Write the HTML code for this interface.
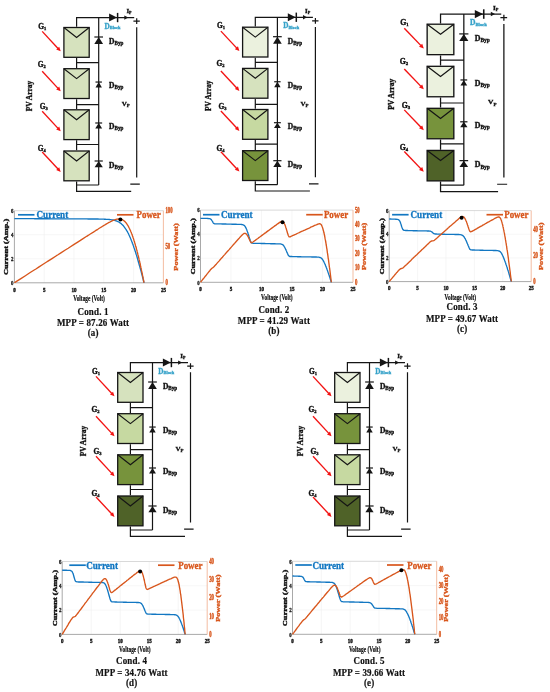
<!DOCTYPE html><html><head><meta charset="utf-8"><style>html,body{margin:0;padding:0;background:#fff;overflow:hidden}svg{display:block;will-change:transform}</style></head><body>
<svg width="550" height="692" viewBox="0 0 550 692" font-family='"Liberation Serif", serif'>
<rect width="550" height="692" fill="#fff"/>
<g transform="matrix(1,0,0,1,0,0)">
<path d="M76.6,26.8 V17.6 H134.2 M76.6,58.0 V68.0 M76.6,62.6 H98.7 M76.6,99.2 V109.1 M76.6,104.6 H98.7 M76.6,140.29999999999998 V150.3 M76.6,144.5 H98.7 M76.6,181.5 V191.3 H131.2 M76.6,185.0 H98.7 M98.7,17.6 V185.0 M136.7,27.2 V177.6 M133.4,21.1 H139.8 M136.7,18.3 V24.0 M130.3,184.1 H139.8" stroke="#151515" stroke-width="1.2" fill="none"/>
<rect x="63.9" y="27.5" width="25.30" height="29.80" fill="#d6e2be" stroke="#151515" stroke-width="1.3"/>
<path d="M63.9,27.5 L76.6,37.4 L89.2,27.5" stroke="#151515" stroke-width="1.2" fill="none"/>
<rect x="63.9" y="68.7" width="25.30" height="29.80" fill="#d6e2be" stroke="#151515" stroke-width="1.3"/>
<path d="M63.9,68.7 L76.6,78.6 L89.2,68.7" stroke="#151515" stroke-width="1.2" fill="none"/>
<rect x="63.9" y="109.8" width="25.30" height="29.80" fill="#d6e2be" stroke="#151515" stroke-width="1.3"/>
<path d="M63.9,109.8 L76.6,119.69999999999999 L89.2,109.8" stroke="#151515" stroke-width="1.2" fill="none"/>
<rect x="63.9" y="151.0" width="25.30" height="29.80" fill="#d6e2be" stroke="#151515" stroke-width="1.3"/>
<path d="M63.9,151.0 L76.6,160.9 L89.2,151.0" stroke="#151515" stroke-width="1.2" fill="none"/>
<path d="M98.7,37.0 L94.35,44.00 H103.05 Z" fill="#151515"/>
<path d="M94.35,37.00 H103.05" stroke="#151515" stroke-width="1.2"/>
<text x="109.1" y="44.05" font-size="7.5" font-weight="bold" fill="#111" stroke="#111" stroke-width="0.34">D<tspan font-size="5.1" dy="1.0">Byp</tspan></text>
<path d="M98.7,82.05 L95.50,87.55 H101.90 Z" fill="#151515"/>
<path d="M95.50,82.05 H101.90" stroke="#151515" stroke-width="1.2"/>
<text x="109.1" y="88.35" font-size="7.5" font-weight="bold" fill="#111" stroke="#111" stroke-width="0.34">D<tspan font-size="5.1" dy="1.0">Byp</tspan></text>
<path d="M98.7,123.0 L95.25,128.40 H102.15 Z" fill="#151515"/>
<path d="M95.25,123.00 H102.15" stroke="#151515" stroke-width="1.2"/>
<text x="109.1" y="129.25" font-size="7.5" font-weight="bold" fill="#111" stroke="#111" stroke-width="0.34">D<tspan font-size="5.1" dy="1.0">Byp</tspan></text>
<path d="M98.7,161.0 L94.60,167.30 H102.80 Z" fill="#151515"/>
<path d="M94.60,161.00 H102.80" stroke="#151515" stroke-width="1.2"/>
<text x="109.1" y="167.70000000000002" font-size="7.5" font-weight="bold" fill="#111" stroke="#111" stroke-width="0.34">D<tspan font-size="5.1" dy="1.0">Byp</tspan></text>
<path d="M109.1,13.6 L117.0,17.6 L109.1,21.6 Z" fill="#151515"/>
<path d="M117.6,12.9 V22.2" stroke="#151515" stroke-width="1.5"/>
<path d="M124.3,15.4 L128.3,17.6 L124.3,19.8 Z" fill="#151515"/>
<text x="104.5" y="28.7" font-size="7.2" font-weight="bold" fill="#36a2c9" stroke="#36a2c9" stroke-width="0.34">D<tspan font-size="4.4" dy="0.6">Block</tspan></text>
<text x="126.4" y="13.3" font-size="6.9" font-weight="bold" fill="#111" stroke="#111" stroke-width="0.34">I<tspan font-size="4.1" dy="0.9">P</tspan></text>
<text x="121.7" y="105.9" font-size="7.0" font-weight="bold" fill="#111" stroke="#111" stroke-width="0.34">V<tspan font-size="4.9" dy="1.5">P</tspan></text>
<text x="38.3" y="28.6" font-size="7.4" font-weight="bold" fill="#111" stroke="#111" stroke-width="0.34">G<tspan font-size="4.5" dy="1.0">1</tspan></text>
<path d="M42.2,31.4 L58.04,48.44" stroke="#f21313" stroke-width="1.35"/>
<path d="M60.7,51.3 L56.17,49.51 L59.24,46.65 Z" fill="#f21313"/>
<text x="37.8" y="66.5" font-size="7.4" font-weight="bold" fill="#111" stroke="#111" stroke-width="0.34">G<tspan font-size="4.5" dy="1.0">2</tspan></text>
<path d="M42.2,71.3 L58.04,88.34" stroke="#f21313" stroke-width="1.35"/>
<path d="M60.7,91.19999999999999 L56.17,89.41 L59.24,86.55 Z" fill="#f21313"/>
<text x="39.7" y="109.2" font-size="7.4" font-weight="bold" fill="#111" stroke="#111" stroke-width="0.34">G<tspan font-size="4.5" dy="1.0">3</tspan></text>
<path d="M42.2,111.3 L58.04,128.34" stroke="#f21313" stroke-width="1.35"/>
<path d="M60.7,131.2 L56.17,129.41 L59.24,126.55 Z" fill="#f21313"/>
<text x="37.8" y="151.0" font-size="7.4" font-weight="bold" fill="#111" stroke="#111" stroke-width="0.34">G<tspan font-size="4.5" dy="1.0">4</tspan></text>
<path d="M42.2,152.0 L58.04,169.04" stroke="#f21313" stroke-width="1.35"/>
<path d="M60.7,171.9 L56.17,170.11 L59.24,167.25 Z" fill="#f21313"/>
<text transform="translate(32.4,111.3) rotate(-90)" font-size="7.4" font-weight="bold" fill="#111" stroke="#111" stroke-width="0.34">PV Array</text>
</g>
<g transform="matrix(1,0,0,1,178.7,-0.3)">
<path d="M76.6,26.8 V17.6 H134.2 M76.6,58.0 V68.0 M76.6,62.6 H98.7 M76.6,99.2 V109.1 M76.6,104.6 H98.7 M76.6,140.29999999999998 V150.3 M76.6,144.5 H98.7 M76.6,181.5 V191.3 H131.2 M76.6,185.0 H98.7 M98.7,17.6 V185.0 M136.7,27.2 V177.6 M133.4,21.1 H139.8 M136.7,18.3 V24.0 M130.3,184.1 H139.8" stroke="#151515" stroke-width="1.2" fill="none"/>
<rect x="63.9" y="27.5" width="25.30" height="29.80" fill="#ebf1de" stroke="#151515" stroke-width="1.3"/>
<path d="M63.9,27.5 L76.6,37.4 L89.2,27.5" stroke="#151515" stroke-width="1.2" fill="none"/>
<rect x="63.9" y="68.7" width="25.30" height="29.80" fill="#d6e2be" stroke="#151515" stroke-width="1.3"/>
<path d="M63.9,68.7 L76.6,78.6 L89.2,68.7" stroke="#151515" stroke-width="1.2" fill="none"/>
<rect x="63.9" y="109.8" width="25.30" height="29.80" fill="#c6d9a1" stroke="#151515" stroke-width="1.3"/>
<path d="M63.9,109.8 L76.6,119.69999999999999 L89.2,109.8" stroke="#151515" stroke-width="1.2" fill="none"/>
<rect x="63.9" y="151.0" width="25.30" height="29.80" fill="#77933c" stroke="#151515" stroke-width="1.3"/>
<path d="M63.9,151.0 L76.6,160.9 L89.2,151.0" stroke="#151515" stroke-width="1.2" fill="none"/>
<path d="M98.7,37.0 L94.35,44.00 H103.05 Z" fill="#151515"/>
<path d="M94.35,37.00 H103.05" stroke="#151515" stroke-width="1.2"/>
<text x="109.1" y="44.05" font-size="7.5" font-weight="bold" fill="#111" stroke="#111" stroke-width="0.34">D<tspan font-size="5.1" dy="1.0">Byp</tspan></text>
<path d="M98.7,82.05 L95.50,87.55 H101.90 Z" fill="#151515"/>
<path d="M95.50,82.05 H101.90" stroke="#151515" stroke-width="1.2"/>
<text x="109.1" y="88.35" font-size="7.5" font-weight="bold" fill="#111" stroke="#111" stroke-width="0.34">D<tspan font-size="5.1" dy="1.0">Byp</tspan></text>
<path d="M98.7,123.0 L95.25,128.40 H102.15 Z" fill="#151515"/>
<path d="M95.25,123.00 H102.15" stroke="#151515" stroke-width="1.2"/>
<text x="109.1" y="129.25" font-size="7.5" font-weight="bold" fill="#111" stroke="#111" stroke-width="0.34">D<tspan font-size="5.1" dy="1.0">Byp</tspan></text>
<path d="M98.7,161.0 L94.60,167.30 H102.80 Z" fill="#151515"/>
<path d="M94.60,161.00 H102.80" stroke="#151515" stroke-width="1.2"/>
<text x="109.1" y="167.70000000000002" font-size="7.5" font-weight="bold" fill="#111" stroke="#111" stroke-width="0.34">D<tspan font-size="5.1" dy="1.0">Byp</tspan></text>
<path d="M109.1,13.6 L117.0,17.6 L109.1,21.6 Z" fill="#151515"/>
<path d="M117.6,12.9 V22.2" stroke="#151515" stroke-width="1.5"/>
<path d="M124.3,15.4 L128.3,17.6 L124.3,19.8 Z" fill="#151515"/>
<text x="104.5" y="28.7" font-size="7.2" font-weight="bold" fill="#36a2c9" stroke="#36a2c9" stroke-width="0.34">D<tspan font-size="4.4" dy="0.6">Block</tspan></text>
<text x="126.4" y="13.3" font-size="6.9" font-weight="bold" fill="#111" stroke="#111" stroke-width="0.34">I<tspan font-size="4.1" dy="0.9">P</tspan></text>
<text x="121.7" y="105.9" font-size="7.0" font-weight="bold" fill="#111" stroke="#111" stroke-width="0.34">V<tspan font-size="4.9" dy="1.5">P</tspan></text>
<text x="38.3" y="28.6" font-size="7.4" font-weight="bold" fill="#111" stroke="#111" stroke-width="0.34">G<tspan font-size="4.5" dy="1.0">1</tspan></text>
<path d="M42.2,31.4 L58.04,48.44" stroke="#f21313" stroke-width="1.35"/>
<path d="M60.7,51.3 L56.17,49.51 L59.24,46.65 Z" fill="#f21313"/>
<text x="37.8" y="66.5" font-size="7.4" font-weight="bold" fill="#111" stroke="#111" stroke-width="0.34">G<tspan font-size="4.5" dy="1.0">2</tspan></text>
<path d="M42.2,71.3 L58.04,88.34" stroke="#f21313" stroke-width="1.35"/>
<path d="M60.7,91.19999999999999 L56.17,89.41 L59.24,86.55 Z" fill="#f21313"/>
<text x="39.7" y="109.2" font-size="7.4" font-weight="bold" fill="#111" stroke="#111" stroke-width="0.34">G<tspan font-size="4.5" dy="1.0">3</tspan></text>
<path d="M42.2,111.3 L58.04,128.34" stroke="#f21313" stroke-width="1.35"/>
<path d="M60.7,131.2 L56.17,129.41 L59.24,126.55 Z" fill="#f21313"/>
<text x="37.8" y="151.0" font-size="7.4" font-weight="bold" fill="#111" stroke="#111" stroke-width="0.34">G<tspan font-size="4.5" dy="1.0">4</tspan></text>
<path d="M42.2,152.0 L58.04,169.04" stroke="#f21313" stroke-width="1.35"/>
<path d="M60.7,171.9 L56.17,170.11 L59.24,167.25 Z" fill="#f21313"/>
<text transform="translate(32.4,111.3) rotate(-90)" font-size="7.4" font-weight="bold" fill="#111" stroke="#111" stroke-width="0.34">PV Array</text>
</g>
<g transform="matrix(1.054,0,0,1.022,359.8,-3.9)">
<path d="M76.6,26.8 V17.6 H134.2 M76.6,58.0 V68.0 M76.6,62.6 H98.7 M76.6,99.2 V109.1 M76.6,104.6 H98.7 M76.6,140.29999999999998 V150.3 M76.6,144.5 H98.7 M76.6,181.5 V191.3 H131.2 M76.6,185.0 H98.7 M98.7,17.6 V185.0 M136.7,27.2 V177.6 M133.4,21.1 H139.8 M136.7,18.3 V24.0 M130.3,184.1 H139.8" stroke="#151515" stroke-width="1.2" fill="none"/>
<rect x="63.9" y="27.5" width="25.30" height="29.80" fill="#ebf1de" stroke="#151515" stroke-width="1.3"/>
<path d="M63.9,27.5 L76.6,37.4 L89.2,27.5" stroke="#151515" stroke-width="1.2" fill="none"/>
<rect x="63.9" y="68.7" width="25.30" height="29.80" fill="#ebf1de" stroke="#151515" stroke-width="1.3"/>
<path d="M63.9,68.7 L76.6,78.6 L89.2,68.7" stroke="#151515" stroke-width="1.2" fill="none"/>
<rect x="63.9" y="109.8" width="25.30" height="29.80" fill="#77933c" stroke="#151515" stroke-width="1.3"/>
<path d="M63.9,109.8 L76.6,119.69999999999999 L89.2,109.8" stroke="#151515" stroke-width="1.2" fill="none"/>
<rect x="63.9" y="151.0" width="25.30" height="29.80" fill="#4f6228" stroke="#151515" stroke-width="1.3"/>
<path d="M63.9,151.0 L76.6,160.9 L89.2,151.0" stroke="#151515" stroke-width="1.2" fill="none"/>
<path d="M98.7,37.0 L94.35,44.00 H103.05 Z" fill="#151515"/>
<path d="M94.35,37.00 H103.05" stroke="#151515" stroke-width="1.2"/>
<text x="109.1" y="44.05" font-size="7.5" font-weight="bold" fill="#111" stroke="#111" stroke-width="0.34">D<tspan font-size="5.1" dy="1.0">Byp</tspan></text>
<path d="M98.7,82.05 L95.50,87.55 H101.90 Z" fill="#151515"/>
<path d="M95.50,82.05 H101.90" stroke="#151515" stroke-width="1.2"/>
<text x="109.1" y="88.35" font-size="7.5" font-weight="bold" fill="#111" stroke="#111" stroke-width="0.34">D<tspan font-size="5.1" dy="1.0">Byp</tspan></text>
<path d="M98.7,123.0 L95.25,128.40 H102.15 Z" fill="#151515"/>
<path d="M95.25,123.00 H102.15" stroke="#151515" stroke-width="1.2"/>
<text x="109.1" y="129.25" font-size="7.5" font-weight="bold" fill="#111" stroke="#111" stroke-width="0.34">D<tspan font-size="5.1" dy="1.0">Byp</tspan></text>
<path d="M98.7,161.0 L94.60,167.30 H102.80 Z" fill="#151515"/>
<path d="M94.60,161.00 H102.80" stroke="#151515" stroke-width="1.2"/>
<text x="109.1" y="167.70000000000002" font-size="7.5" font-weight="bold" fill="#111" stroke="#111" stroke-width="0.34">D<tspan font-size="5.1" dy="1.0">Byp</tspan></text>
<path d="M109.1,13.6 L117.0,17.6 L109.1,21.6 Z" fill="#151515"/>
<path d="M117.6,12.9 V22.2" stroke="#151515" stroke-width="1.5"/>
<path d="M124.3,15.4 L128.3,17.6 L124.3,19.8 Z" fill="#151515"/>
<text x="104.5" y="28.7" font-size="7.2" font-weight="bold" fill="#36a2c9" stroke="#36a2c9" stroke-width="0.34">D<tspan font-size="4.4" dy="0.6">Block</tspan></text>
<text x="126.4" y="13.3" font-size="6.9" font-weight="bold" fill="#111" stroke="#111" stroke-width="0.34">I<tspan font-size="4.1" dy="0.9">P</tspan></text>
<text x="121.7" y="105.9" font-size="7.0" font-weight="bold" fill="#111" stroke="#111" stroke-width="0.34">V<tspan font-size="4.9" dy="1.5">P</tspan></text>
<text x="38.3" y="28.6" font-size="7.4" font-weight="bold" fill="#111" stroke="#111" stroke-width="0.34">G<tspan font-size="4.5" dy="1.0">1</tspan></text>
<path d="M42.2,31.4 L58.04,48.44" stroke="#f21313" stroke-width="1.35"/>
<path d="M60.7,51.3 L56.17,49.51 L59.24,46.65 Z" fill="#f21313"/>
<text x="37.8" y="66.5" font-size="7.4" font-weight="bold" fill="#111" stroke="#111" stroke-width="0.34">G<tspan font-size="4.5" dy="1.0">2</tspan></text>
<path d="M42.2,71.3 L58.04,88.34" stroke="#f21313" stroke-width="1.35"/>
<path d="M60.7,91.19999999999999 L56.17,89.41 L59.24,86.55 Z" fill="#f21313"/>
<text x="39.7" y="109.2" font-size="7.4" font-weight="bold" fill="#111" stroke="#111" stroke-width="0.34">G<tspan font-size="4.5" dy="1.0">3</tspan></text>
<path d="M42.2,111.3 L58.04,128.34" stroke="#f21313" stroke-width="1.35"/>
<path d="M60.7,131.2 L56.17,129.41 L59.24,126.55 Z" fill="#f21313"/>
<text x="37.8" y="151.0" font-size="7.4" font-weight="bold" fill="#111" stroke="#111" stroke-width="0.34">G<tspan font-size="4.5" dy="1.0">4</tspan></text>
<path d="M42.2,152.0 L58.04,169.04" stroke="#f21313" stroke-width="1.35"/>
<path d="M60.7,171.9 L56.17,170.11 L59.24,167.25 Z" fill="#f21313"/>
<text transform="translate(32.4,111.3) rotate(-90)" font-size="7.4" font-weight="bold" fill="#111" stroke="#111" stroke-width="0.34">PV Array</text>
</g>
<g transform="matrix(1,0,0,1,53.8,345)">
<path d="M76.6,26.8 V17.6 H134.2 M76.6,58.0 V68.0 M76.6,62.6 H98.7 M76.6,99.2 V109.1 M76.6,104.6 H98.7 M76.6,140.29999999999998 V150.3 M76.6,144.5 H98.7 M76.6,181.5 V191.3 H131.2 M76.6,185.0 H98.7 M98.7,17.6 V185.0 M136.7,27.2 V177.6 M133.4,21.1 H139.8 M136.7,18.3 V24.0 M130.3,184.1 H139.8" stroke="#151515" stroke-width="1.2" fill="none"/>
<rect x="63.9" y="27.5" width="25.30" height="29.80" fill="#d6e2be" stroke="#151515" stroke-width="1.3"/>
<path d="M63.9,27.5 L76.6,37.4 L89.2,27.5" stroke="#151515" stroke-width="1.2" fill="none"/>
<rect x="63.9" y="68.7" width="25.30" height="29.80" fill="#c6d9a1" stroke="#151515" stroke-width="1.3"/>
<path d="M63.9,68.7 L76.6,78.6 L89.2,68.7" stroke="#151515" stroke-width="1.2" fill="none"/>
<rect x="63.9" y="109.8" width="25.30" height="29.80" fill="#77933c" stroke="#151515" stroke-width="1.3"/>
<path d="M63.9,109.8 L76.6,119.69999999999999 L89.2,109.8" stroke="#151515" stroke-width="1.2" fill="none"/>
<rect x="63.9" y="151.0" width="25.30" height="29.80" fill="#4f6228" stroke="#151515" stroke-width="1.3"/>
<path d="M63.9,151.0 L76.6,160.9 L89.2,151.0" stroke="#151515" stroke-width="1.2" fill="none"/>
<path d="M98.7,37.0 L94.35,44.00 H103.05 Z" fill="#151515"/>
<path d="M94.35,37.00 H103.05" stroke="#151515" stroke-width="1.2"/>
<text x="109.1" y="44.05" font-size="7.5" font-weight="bold" fill="#111" stroke="#111" stroke-width="0.34">D<tspan font-size="5.1" dy="1.0">Byp</tspan></text>
<path d="M98.7,82.05 L95.50,87.55 H101.90 Z" fill="#151515"/>
<path d="M95.50,82.05 H101.90" stroke="#151515" stroke-width="1.2"/>
<text x="109.1" y="88.35" font-size="7.5" font-weight="bold" fill="#111" stroke="#111" stroke-width="0.34">D<tspan font-size="5.1" dy="1.0">Byp</tspan></text>
<path d="M98.7,123.0 L95.25,128.40 H102.15 Z" fill="#151515"/>
<path d="M95.25,123.00 H102.15" stroke="#151515" stroke-width="1.2"/>
<text x="109.1" y="129.25" font-size="7.5" font-weight="bold" fill="#111" stroke="#111" stroke-width="0.34">D<tspan font-size="5.1" dy="1.0">Byp</tspan></text>
<path d="M98.7,161.0 L94.60,167.30 H102.80 Z" fill="#151515"/>
<path d="M94.60,161.00 H102.80" stroke="#151515" stroke-width="1.2"/>
<text x="109.1" y="167.70000000000002" font-size="7.5" font-weight="bold" fill="#111" stroke="#111" stroke-width="0.34">D<tspan font-size="5.1" dy="1.0">Byp</tspan></text>
<path d="M109.1,13.6 L117.0,17.6 L109.1,21.6 Z" fill="#151515"/>
<path d="M117.6,12.9 V22.2" stroke="#151515" stroke-width="1.5"/>
<path d="M124.3,15.4 L128.3,17.6 L124.3,19.8 Z" fill="#151515"/>
<text x="104.5" y="28.7" font-size="7.2" font-weight="bold" fill="#36a2c9" stroke="#36a2c9" stroke-width="0.34">D<tspan font-size="4.4" dy="0.6">Block</tspan></text>
<text x="126.4" y="13.3" font-size="6.9" font-weight="bold" fill="#111" stroke="#111" stroke-width="0.34">I<tspan font-size="4.1" dy="0.9">P</tspan></text>
<text x="121.7" y="105.9" font-size="7.0" font-weight="bold" fill="#111" stroke="#111" stroke-width="0.34">V<tspan font-size="4.9" dy="1.5">P</tspan></text>
<text x="38.3" y="28.6" font-size="7.4" font-weight="bold" fill="#111" stroke="#111" stroke-width="0.34">G<tspan font-size="4.5" dy="1.0">1</tspan></text>
<path d="M42.2,31.4 L58.04,48.44" stroke="#f21313" stroke-width="1.35"/>
<path d="M60.7,51.3 L56.17,49.51 L59.24,46.65 Z" fill="#f21313"/>
<text x="37.8" y="66.5" font-size="7.4" font-weight="bold" fill="#111" stroke="#111" stroke-width="0.34">G<tspan font-size="4.5" dy="1.0">2</tspan></text>
<path d="M42.2,71.3 L58.04,88.34" stroke="#f21313" stroke-width="1.35"/>
<path d="M60.7,91.19999999999999 L56.17,89.41 L59.24,86.55 Z" fill="#f21313"/>
<text x="39.7" y="109.2" font-size="7.4" font-weight="bold" fill="#111" stroke="#111" stroke-width="0.34">G<tspan font-size="4.5" dy="1.0">3</tspan></text>
<path d="M42.2,111.3 L58.04,128.34" stroke="#f21313" stroke-width="1.35"/>
<path d="M60.7,131.2 L56.17,129.41 L59.24,126.55 Z" fill="#f21313"/>
<text x="37.8" y="151.0" font-size="7.4" font-weight="bold" fill="#111" stroke="#111" stroke-width="0.34">G<tspan font-size="4.5" dy="1.0">4</tspan></text>
<path d="M42.2,152.0 L58.04,169.04" stroke="#f21313" stroke-width="1.35"/>
<path d="M60.7,171.9 L56.17,170.11 L59.24,167.25 Z" fill="#f21313"/>
<text transform="translate(32.4,111.3) rotate(-90)" font-size="7.4" font-weight="bold" fill="#111" stroke="#111" stroke-width="0.34">PV Array</text>
</g>
<g transform="matrix(1,0,0,1,270.8,345)">
<path d="M76.6,26.8 V17.6 H134.2 M76.6,58.0 V68.0 M76.6,62.6 H98.7 M76.6,99.2 V109.1 M76.6,104.6 H98.7 M76.6,140.29999999999998 V150.3 M76.6,144.5 H98.7 M76.6,181.5 V191.3 H131.2 M76.6,185.0 H98.7 M98.7,17.6 V185.0 M136.7,27.2 V177.6 M133.4,21.1 H139.8 M136.7,18.3 V24.0 M130.3,184.1 H139.8" stroke="#151515" stroke-width="1.2" fill="none"/>
<rect x="63.9" y="27.5" width="25.30" height="29.80" fill="#ebf1de" stroke="#151515" stroke-width="1.3"/>
<path d="M63.9,27.5 L76.6,37.4 L89.2,27.5" stroke="#151515" stroke-width="1.2" fill="none"/>
<rect x="63.9" y="68.7" width="25.30" height="29.80" fill="#77933c" stroke="#151515" stroke-width="1.3"/>
<path d="M63.9,68.7 L76.6,78.6 L89.2,68.7" stroke="#151515" stroke-width="1.2" fill="none"/>
<rect x="63.9" y="109.8" width="25.30" height="29.80" fill="#c6d9a1" stroke="#151515" stroke-width="1.3"/>
<path d="M63.9,109.8 L76.6,119.69999999999999 L89.2,109.8" stroke="#151515" stroke-width="1.2" fill="none"/>
<rect x="63.9" y="151.0" width="25.30" height="29.80" fill="#4f6228" stroke="#151515" stroke-width="1.3"/>
<path d="M63.9,151.0 L76.6,160.9 L89.2,151.0" stroke="#151515" stroke-width="1.2" fill="none"/>
<path d="M98.7,37.0 L94.35,44.00 H103.05 Z" fill="#151515"/>
<path d="M94.35,37.00 H103.05" stroke="#151515" stroke-width="1.2"/>
<text x="109.1" y="44.05" font-size="7.5" font-weight="bold" fill="#111" stroke="#111" stroke-width="0.34">D<tspan font-size="5.1" dy="1.0">Byp</tspan></text>
<path d="M98.7,82.05 L95.50,87.55 H101.90 Z" fill="#151515"/>
<path d="M95.50,82.05 H101.90" stroke="#151515" stroke-width="1.2"/>
<text x="109.1" y="88.35" font-size="7.5" font-weight="bold" fill="#111" stroke="#111" stroke-width="0.34">D<tspan font-size="5.1" dy="1.0">Byp</tspan></text>
<path d="M98.7,123.0 L95.25,128.40 H102.15 Z" fill="#151515"/>
<path d="M95.25,123.00 H102.15" stroke="#151515" stroke-width="1.2"/>
<text x="109.1" y="129.25" font-size="7.5" font-weight="bold" fill="#111" stroke="#111" stroke-width="0.34">D<tspan font-size="5.1" dy="1.0">Byp</tspan></text>
<path d="M98.7,161.0 L94.60,167.30 H102.80 Z" fill="#151515"/>
<path d="M94.60,161.00 H102.80" stroke="#151515" stroke-width="1.2"/>
<text x="109.1" y="167.70000000000002" font-size="7.5" font-weight="bold" fill="#111" stroke="#111" stroke-width="0.34">D<tspan font-size="5.1" dy="1.0">Byp</tspan></text>
<path d="M109.1,13.6 L117.0,17.6 L109.1,21.6 Z" fill="#151515"/>
<path d="M117.6,12.9 V22.2" stroke="#151515" stroke-width="1.5"/>
<path d="M124.3,15.4 L128.3,17.6 L124.3,19.8 Z" fill="#151515"/>
<text x="104.5" y="28.7" font-size="7.2" font-weight="bold" fill="#36a2c9" stroke="#36a2c9" stroke-width="0.34">D<tspan font-size="4.4" dy="0.6">Block</tspan></text>
<text x="126.4" y="13.3" font-size="6.9" font-weight="bold" fill="#111" stroke="#111" stroke-width="0.34">I<tspan font-size="4.1" dy="0.9">P</tspan></text>
<text x="121.7" y="105.9" font-size="7.0" font-weight="bold" fill="#111" stroke="#111" stroke-width="0.34">V<tspan font-size="4.9" dy="1.5">P</tspan></text>
<text x="38.3" y="28.6" font-size="7.4" font-weight="bold" fill="#111" stroke="#111" stroke-width="0.34">G<tspan font-size="4.5" dy="1.0">1</tspan></text>
<path d="M42.2,31.4 L58.04,48.44" stroke="#f21313" stroke-width="1.35"/>
<path d="M60.7,51.3 L56.17,49.51 L59.24,46.65 Z" fill="#f21313"/>
<text x="37.8" y="66.5" font-size="7.4" font-weight="bold" fill="#111" stroke="#111" stroke-width="0.34">G<tspan font-size="4.5" dy="1.0">2</tspan></text>
<path d="M42.2,71.3 L58.04,88.34" stroke="#f21313" stroke-width="1.35"/>
<path d="M60.7,91.19999999999999 L56.17,89.41 L59.24,86.55 Z" fill="#f21313"/>
<text x="39.7" y="109.2" font-size="7.4" font-weight="bold" fill="#111" stroke="#111" stroke-width="0.34">G<tspan font-size="4.5" dy="1.0">3</tspan></text>
<path d="M42.2,111.3 L58.04,128.34" stroke="#f21313" stroke-width="1.35"/>
<path d="M60.7,131.2 L56.17,129.41 L59.24,126.55 Z" fill="#f21313"/>
<text x="37.8" y="151.0" font-size="7.4" font-weight="bold" fill="#111" stroke="#111" stroke-width="0.34">G<tspan font-size="4.5" dy="1.0">4</tspan></text>
<path d="M42.2,152.0 L58.04,169.04" stroke="#f21313" stroke-width="1.35"/>
<path d="M60.7,171.9 L56.17,170.11 L59.24,167.25 Z" fill="#f21313"/>
<text transform="translate(32.4,111.3) rotate(-90)" font-size="7.4" font-weight="bold" fill="#111" stroke="#111" stroke-width="0.34">PV Array</text>
</g>
<path d="M44.20,282.8 V210.70 M74.00,282.8 V210.70 M103.80,282.8 V210.70 M133.60,282.8 V210.70 M14.4,258.77 H163.40 M14.4,234.73 H163.40" stroke="#f0f0f0" stroke-width="0.6" fill="none"/>
<path d="M14.4,210.70 H163.40" stroke="#cfcfcf" stroke-width="0.8"/>
<path d="M14.4,210.70 V282.8 H163.40" stroke="#8c8c8c" stroke-width="0.75" fill="none"/>
<path d="M163.40,282.8 V210.70" stroke="#f2b597" stroke-width="0.9"/>
<polyline points="14.4,218.6 16.5,218.6 20.9,218.6 25.4,218.6 29.8,218.6 34.2,218.7 36.3,218.7 38.7,218.7 43.1,218.7 47.0,218.7 52.0,218.8 56.4,218.8 57.6,218.8 60.9,218.8 65.3,218.8 68.2,218.8 69.7,218.9 74.1,218.9 78.5,218.9 82.7,218.9 86.7,218.9 88.5,219.0 90.3,219.0 93.4,219.0 95.5,219.0 97.8,219.0 99.3,219.1 100.6,219.1 101.6,219.1 102.5,219.1 103.3,219.1 104.0,219.2 105.2,219.2 106.1,219.3 106.9,219.3 107.6,219.3 108.5,219.4 109.3,219.5 110.2,219.6 110.9,219.7 111.6,219.8 112.4,219.9 113.1,220.0 113.9,220.2 114.6,220.4 115.3,220.6 116.0,220.8 116.7,221.0 117.4,221.3 118.1,221.7 118.8,222.0 119.4,222.4 120.1,222.9 120.7,223.3 121.3,223.8 121.8,224.3 122.3,224.7 122.9,225.3 123.4,225.8 123.8,226.4 124.3,227.0 124.7,227.6 125.2,228.2 125.6,228.8 126.0,229.3 126.3,229.9 126.7,230.6 127.1,231.2 127.5,231.9 127.8,232.5 128.2,233.2 128.5,233.8 128.8,234.5 129.1,235.1 129.4,235.8 129.7,236.4 130.0,237.1 130.3,237.7 130.6,238.4 130.8,239.0 131.1,239.7 131.3,240.3 131.6,241.0 131.9,241.8 132.2,242.5 132.4,243.2 132.7,243.9 133.0,244.6 133.2,245.3 133.5,246.0 133.7,246.7 133.9,247.4 134.2,248.1 134.4,248.8 134.7,249.5 134.9,250.2 135.1,250.9 135.3,251.6 135.6,252.3 135.8,253.0 136.0,253.7 136.2,254.4 136.5,255.1 136.7,255.8 136.9,256.5 137.1,257.2 137.3,257.9 137.5,258.6 137.7,259.4 137.9,260.1 138.1,260.8 138.3,261.5 138.5,262.2 138.7,262.9 138.9,263.6 139.1,264.3 139.3,265.0 139.5,265.7 139.7,266.4 139.9,267.1 140.1,267.8 140.3,268.5 140.5,269.2 140.7,269.9 140.9,270.6 141.1,271.3 141.3,272.0 141.4,272.7 141.6,273.4 141.8,274.1 142.0,274.8 142.2,275.5 142.4,276.2 142.5,277.0 142.7,277.7 142.9,278.4 143.1,279.1 143.3,279.8 143.4,280.5 143.6,281.2 143.8,281.9 144.0,282.6 144.0,282.8" stroke="#1277c2" stroke-width="1.35" fill="none" stroke-linejoin="round"/>
<polyline points="14.4,282.8 15.0,282.4 16.5,281.4 20.9,278.6 25.4,275.7 29.8,272.8 34.2,270.0 36.3,268.7 38.7,267.1 43.1,264.3 47.0,261.8 47.6,261.4 52.0,258.6 56.4,255.7 57.6,255.0 60.9,252.9 65.3,250.0 68.2,248.2 69.7,247.2 74.1,244.4 78.5,241.6 82.7,238.9 86.7,236.3 88.5,235.2 90.3,234.0 93.4,232.1 95.5,230.7 97.8,229.3 99.3,228.3 100.6,227.5 101.6,226.9 102.2,226.5 103.3,225.8 104.0,225.4 104.6,225.0 105.4,224.6 106.1,224.1 106.9,223.7 107.6,223.2 108.2,222.9 109.1,222.4 109.8,222.1 110.4,221.7 111.1,221.4 111.7,221.1 112.4,220.7 113.1,220.4 113.9,220.1 114.6,219.8 115.3,219.6 116.0,219.4 116.8,219.2 117.5,219.1 118.2,219.0 118.9,218.9 119.6,219.0 120.3,219.1 121.0,219.2 121.7,219.4 122.4,219.7 123.0,220.1 123.6,220.5 124.2,221.0 124.7,221.4 125.3,221.9 125.7,222.5 126.2,223.0 126.6,223.6 127.0,224.2 127.4,224.8 127.8,225.4 128.2,226.0 128.5,226.6 128.8,227.3 129.2,227.9 129.5,228.6 129.8,229.2 130.1,229.9 130.4,230.6 130.7,231.3 131.0,232.0 131.3,232.6 131.5,233.3 131.8,234.0 132.0,234.6 132.3,235.3 132.5,236.0 132.8,236.7 133.0,237.3 133.2,238.0 133.5,238.7 133.7,239.4 133.9,240.1 134.1,240.8 134.4,241.5 134.6,242.2 134.8,243.0 135.0,243.7 135.2,244.4 135.4,245.1 135.6,245.9 135.8,246.6 136.1,247.3 136.2,248.0 136.4,248.7 136.6,249.4 136.8,250.0 137.0,250.7 137.1,251.4 137.3,252.1 137.5,252.8 137.7,253.5 137.8,254.2 138.0,254.9 138.2,255.6 138.4,256.3 138.5,257.0 138.7,257.7 138.9,258.4 139.0,259.2 139.2,259.9 139.4,260.6 139.5,261.3 139.7,262.0 139.9,262.8 140.0,263.5 140.2,264.2 140.4,264.9 140.5,265.7 140.7,266.4 140.8,267.2 141.0,267.9 141.2,268.6 141.3,269.4 141.5,270.1 141.6,270.9 141.8,271.6 142.0,272.4 142.1,273.1 142.2,273.8 142.4,274.5 142.5,275.2 142.7,275.9 142.8,276.6 142.9,277.3 143.1,278.0 143.2,278.7 143.4,279.4 143.5,280.1 143.6,280.8 143.8,281.5 143.9,282.2 144.0,282.8" stroke="#d8561c" stroke-width="1.35" fill="none" stroke-linejoin="round"/>
<circle cx="120.4" cy="219.5" r="2.0" fill="#000"/>
<text transform="translate(14.40,291.50) scale(0.72,1)" text-anchor="middle" font-size="7.0" font-weight="bold" fill="#1a1a1a" stroke="#1a1a1a" stroke-width="0.5">0</text>
<text transform="translate(44.20,291.50) scale(0.72,1)" text-anchor="middle" font-size="7.0" font-weight="bold" fill="#1a1a1a" stroke="#1a1a1a" stroke-width="0.5">5</text>
<text transform="translate(74.00,291.50) scale(0.72,1)" text-anchor="middle" font-size="7.0" font-weight="bold" fill="#1a1a1a" stroke="#1a1a1a" stroke-width="0.5">10</text>
<text transform="translate(103.80,291.50) scale(0.72,1)" text-anchor="middle" font-size="7.0" font-weight="bold" fill="#1a1a1a" stroke="#1a1a1a" stroke-width="0.5">15</text>
<text transform="translate(133.60,291.50) scale(0.72,1)" text-anchor="middle" font-size="7.0" font-weight="bold" fill="#1a1a1a" stroke="#1a1a1a" stroke-width="0.5">20</text>
<text transform="translate(163.40,291.50) scale(0.72,1)" text-anchor="middle" font-size="7.0" font-weight="bold" fill="#1a1a1a" stroke="#1a1a1a" stroke-width="0.5">25</text>
<text transform="translate(12.30,285.00) scale(0.74,1)" text-anchor="middle" font-size="6.6" font-weight="bold" fill="#1a1a1a" stroke="#1a1a1a" stroke-width="0.35">0</text>
<text transform="translate(12.30,260.97) scale(0.74,1)" text-anchor="middle" font-size="6.6" font-weight="bold" fill="#1a1a1a" stroke="#1a1a1a" stroke-width="0.35">2</text>
<text transform="translate(12.30,236.93) scale(0.74,1)" text-anchor="middle" font-size="6.6" font-weight="bold" fill="#1a1a1a" stroke="#1a1a1a" stroke-width="0.35">4</text>
<text transform="translate(12.30,212.90) scale(0.74,1)" text-anchor="middle" font-size="6.6" font-weight="bold" fill="#1a1a1a" stroke="#1a1a1a" stroke-width="0.35">6</text>
<text transform="translate(165.40,285.20) scale(0.66,1)" font-size="7.2" font-weight="bold" fill="#d8561c" stroke="#d8561c" stroke-width="0.4">0</text>
<text transform="translate(165.40,249.15) scale(0.66,1)" font-size="7.2" font-weight="bold" fill="#d8561c" stroke="#d8561c" stroke-width="0.4">50</text>
<text transform="translate(165.40,213.10) scale(0.66,1)" font-size="7.2" font-weight="bold" fill="#d8561c" stroke="#d8561c" stroke-width="0.4">100</text>
<text transform="translate(8.20,246.95) rotate(-90) scale(1.49,1)" text-anchor="middle" font-size="5.6" font-weight="bold" fill="#111" stroke="#111" stroke-width="0.35">Current (Amp.)</text>
<text transform="translate(178.00,246.95) rotate(-90) scale(1.48,1)" text-anchor="middle" font-size="5.6" font-weight="bold" fill="#d8561c" stroke="#d8561c" stroke-width="0.3">Power (Watt)</text>
<text transform="translate(89.00,300.70) scale(0.74,1)" text-anchor="middle" font-size="7.3" font-weight="bold" fill="#111" stroke="#111" stroke-width="0.2">Voltage (Volt)</text>
<path d="M18.00,214.80 H34.50" stroke="#1277c2" stroke-width="1.7"/>
<text transform="translate(36.50,218.00) scale(0.97,1.06)" font-size="9.4" font-weight="bold" fill="#1277c2" stroke="#1277c2" stroke-width="0.3">Current</text>
<path d="M117.00,214.80 H133.50" stroke="#d8561c" stroke-width="1.7"/>
<text transform="translate(136.50,218.00) scale(0.95,1.06)" font-size="9.4" font-weight="bold" fill="#d8561c" stroke="#d8561c" stroke-width="0.3">Power</text>
<path d="M231.00,282.3 V210.10 M261.50,282.3 V210.10 M292.00,282.3 V210.10 M322.50,282.3 V210.10 M200.5,258.23 H353.00 M200.5,234.17 H353.00" stroke="#f0f0f0" stroke-width="0.6" fill="none"/>
<path d="M200.5,210.10 H353.00" stroke="#cfcfcf" stroke-width="0.8"/>
<path d="M200.5,210.10 V282.3 H353.00" stroke="#8c8c8c" stroke-width="0.75" fill="none"/>
<path d="M353.00,282.3 V210.10" stroke="#f2b597" stroke-width="0.9"/>
<polyline points="200.5,218.3 202.0,218.3 203.1,218.4 204.3,218.4 205.3,218.4 206.2,218.4 207.0,218.4 208.0,218.5 208.8,218.6 209.6,218.7 210.3,218.9 210.9,219.3 211.4,219.8 211.8,220.3 212.2,221.0 212.6,221.6 212.9,222.3 213.3,222.9 213.8,223.4 214.4,223.8 215.5,223.8 216.5,223.8 217.8,223.9 219.0,223.9 220.1,223.9 220.9,223.9 222.4,224.0 223.5,224.0 224.7,224.0 225.8,224.0 226.9,224.1 228.1,224.1 229.1,224.1 230.3,224.1 231.5,224.2 232.6,224.2 233.7,224.2 234.6,224.2 236.0,224.2 237.1,224.3 238.2,224.3 239.2,224.3 239.9,224.3 240.9,224.4 241.7,224.5 242.4,224.6 243.1,224.8 243.7,225.1 244.3,225.5 244.8,226.0 245.2,226.6 245.5,227.2 245.9,227.9 246.2,228.5 246.5,229.2 246.8,229.8 247.0,230.5 247.3,231.2 247.5,231.9 247.8,232.6 248.0,233.3 248.2,234.0 248.5,234.7 248.7,235.4 248.9,236.2 249.1,236.9 249.3,237.6 249.5,238.3 249.8,239.0 250.0,239.7 250.2,240.4 250.5,241.1 250.8,241.7 251.1,242.4 251.6,242.9 252.3,243.2 253.3,243.3 254.3,243.3 255.2,243.3 256.7,243.4 257.8,243.4 258.9,243.4 260.1,243.4 261.2,243.5 262.3,243.5 263.5,243.5 264.6,243.5 265.8,243.6 266.7,243.6 268.0,243.6 269.2,243.6 270.3,243.7 271.4,243.7 272.6,243.7 273.7,243.7 274.8,243.7 276.0,243.8 277.0,243.8 278.0,243.8 278.7,243.8 279.7,243.9 280.5,243.9 281.2,244.1 281.9,244.3 282.6,244.6 283.1,245.0 283.6,245.6 284.0,246.1 284.4,246.8 284.8,247.4 285.1,248.1 285.4,248.7 285.7,249.4 286.0,250.0 286.3,250.7 286.6,251.3 286.8,252.0 287.1,252.6 287.4,253.3 287.7,253.9 288.0,254.6 288.3,255.2 288.8,255.8 289.3,256.3 290.0,256.5 290.8,256.5 291.8,256.5 292.6,256.6 293.8,256.6 294.9,256.6 296.1,256.6 297.2,256.7 298.3,256.7 299.2,256.7 300.6,256.7 301.7,256.8 302.9,256.8 304.0,256.8 305.2,256.8 306.3,256.8 307.4,256.9 308.6,256.9 309.7,256.9 310.8,256.9 312.0,257.0 312.9,257.0 314.2,257.0 315.3,257.0 316.3,257.0 317.0,257.1 318.0,257.1 318.8,257.2 319.5,257.3 320.2,257.5 320.9,257.8 321.4,258.2 321.9,258.7 322.4,259.3 322.8,259.9 323.2,260.5 323.5,261.2 323.9,261.8 324.2,262.5 324.5,263.1 324.8,263.8 325.1,264.4 325.4,265.1 325.6,265.7 325.9,266.4 326.2,267.1 326.4,267.8 326.7,268.5 327.0,269.2 327.2,269.9 327.5,270.6 327.7,271.3 328.0,272.0 328.2,272.7 328.5,273.4 328.7,274.1 328.9,274.8 329.2,275.5 329.4,276.2 329.6,276.9 329.9,277.6 330.1,278.3 330.3,279.0 330.5,279.8 330.8,280.5 331.0,281.2 331.2,281.9 331.3,282.3" stroke="#1277c2" stroke-width="1.35" fill="none" stroke-linejoin="round"/>
<polyline points="200.5,282.3 201.0,281.7 202.0,280.4 203.1,279.0 203.7,278.3 204.3,277.6 205.3,276.2 206.2,275.2 207.0,274.1 207.6,273.4 208.4,272.4 208.8,271.9 209.3,271.3 209.8,270.7 210.2,270.1 210.7,269.6 211.2,269.1 211.7,268.6 212.3,268.1 212.8,267.7 213.4,267.2 213.9,266.8 214.4,266.2 215.0,265.6 215.5,265.1 216.0,264.4 216.5,263.9 217.8,262.4 219.0,261.1 220.1,259.8 220.9,258.8 222.4,257.2 223.5,255.9 224.7,254.6 225.8,253.3 226.4,252.6 226.9,252.0 228.1,250.7 229.1,249.6 230.3,248.2 231.5,246.9 232.6,245.6 233.7,244.3 234.6,243.4 236.0,241.7 237.1,240.5 238.2,239.3 239.2,238.2 239.9,237.3 240.5,236.7 241.2,235.9 241.9,235.2 242.4,234.7 243.0,234.2 243.6,233.8 244.2,233.4 244.9,233.3 245.6,233.5 246.2,233.9 246.6,234.4 247.1,235.0 247.5,235.6 247.8,236.2 248.2,236.8 248.5,237.5 248.8,238.2 249.1,238.8 249.4,239.5 249.7,240.1 250.0,240.8 250.3,241.4 250.7,242.0 251.1,242.5 251.8,242.7 252.5,242.3 253.3,241.8 254.3,241.0 255.2,240.4 256.7,239.3 257.8,238.5 258.5,237.9 260.1,236.8 261.2,235.9 262.3,235.1 263.5,234.2 264.6,233.4 265.8,232.6 266.7,231.9 268.0,230.9 269.2,230.1 270.3,229.2 271.4,228.4 272.1,227.9 273.7,226.7 274.8,225.9 276.0,225.1 277.0,224.3 278.0,223.6 278.7,223.1 279.7,222.4 280.5,221.9 281.2,221.6 281.9,221.4 282.6,221.5 283.2,221.8 283.7,222.4 284.1,223.0 284.4,223.7 284.7,224.3 285.0,225.0 285.3,225.8 285.5,226.4 285.7,227.1 285.9,227.8 286.2,228.5 286.4,229.2 286.6,229.9 286.8,230.6 287.0,231.3 287.2,232.0 287.4,232.7 287.6,233.4 287.8,234.1 288.1,234.8 288.3,235.5 288.7,236.2 289.1,236.8 290.0,236.8 290.8,236.5 291.5,236.2 292.5,235.7 293.8,235.1 294.9,234.6 296.1,234.1 297.2,233.5 298.3,233.0 299.2,232.6 300.6,231.9 301.7,231.4 302.9,230.9 304.0,230.4 304.7,230.1 306.3,229.3 307.4,228.8 308.6,228.3 309.7,227.8 310.8,227.2 312.0,226.7 312.9,226.3 314.2,225.7 315.3,225.2 316.3,224.8 317.0,224.5 318.0,224.1 318.8,223.8 319.5,223.7 320.2,223.9 320.8,224.3 321.3,224.8 321.6,225.4 322.0,226.1 322.2,226.7 322.5,227.4 322.7,228.1 322.9,228.8 323.1,229.5 323.3,230.2 323.5,230.9 323.7,231.6 323.8,232.3 324.0,233.0 324.2,233.8 324.3,234.5 324.5,235.2 324.6,236.0 324.8,236.7 324.9,237.4 325.0,238.2 325.2,238.9 325.3,239.7 325.5,240.4 325.6,241.2 325.7,242.0 325.9,242.7 326.0,243.5 326.1,244.2 326.2,245.0 326.4,245.8 326.5,246.5 326.6,247.3 326.7,248.1 326.9,248.9 327.0,249.6 327.1,250.4 327.2,251.2 327.3,252.0 327.4,252.8 327.6,253.6 327.7,254.3 327.8,255.1 327.9,255.9 328.0,256.7 328.1,257.5 328.2,258.3 328.4,259.1 328.5,259.9 328.6,260.7 328.7,261.5 328.8,262.3 328.9,263.1 329.0,263.9 329.1,264.7 329.2,265.5 329.3,266.4 329.4,267.2 329.6,268.0 329.7,268.8 329.8,269.6 329.9,270.4 330.0,271.2 330.1,272.1 330.2,272.9 330.3,273.7 330.4,274.5 330.5,275.4 330.6,276.2 330.7,277.0 330.8,277.9 330.9,278.7 331.0,279.5 331.1,280.3 331.2,281.0 331.3,281.7 331.3,282.3" stroke="#d8561c" stroke-width="1.35" fill="none" stroke-linejoin="round"/>
<circle cx="282.5" cy="222.2" r="2.0" fill="#000"/>
<text transform="translate(200.50,291.00) scale(0.72,1)" text-anchor="middle" font-size="7.0" font-weight="bold" fill="#1a1a1a" stroke="#1a1a1a" stroke-width="0.5">0</text>
<text transform="translate(231.00,291.00) scale(0.72,1)" text-anchor="middle" font-size="7.0" font-weight="bold" fill="#1a1a1a" stroke="#1a1a1a" stroke-width="0.5">5</text>
<text transform="translate(261.50,291.00) scale(0.72,1)" text-anchor="middle" font-size="7.0" font-weight="bold" fill="#1a1a1a" stroke="#1a1a1a" stroke-width="0.5">10</text>
<text transform="translate(292.00,291.00) scale(0.72,1)" text-anchor="middle" font-size="7.0" font-weight="bold" fill="#1a1a1a" stroke="#1a1a1a" stroke-width="0.5">15</text>
<text transform="translate(322.50,291.00) scale(0.72,1)" text-anchor="middle" font-size="7.0" font-weight="bold" fill="#1a1a1a" stroke="#1a1a1a" stroke-width="0.5">20</text>
<text transform="translate(353.00,291.00) scale(0.72,1)" text-anchor="middle" font-size="7.0" font-weight="bold" fill="#1a1a1a" stroke="#1a1a1a" stroke-width="0.5">25</text>
<text transform="translate(198.40,284.50) scale(0.74,1)" text-anchor="middle" font-size="6.6" font-weight="bold" fill="#1a1a1a" stroke="#1a1a1a" stroke-width="0.35">0</text>
<text transform="translate(198.40,260.43) scale(0.74,1)" text-anchor="middle" font-size="6.6" font-weight="bold" fill="#1a1a1a" stroke="#1a1a1a" stroke-width="0.35">2</text>
<text transform="translate(198.40,236.37) scale(0.74,1)" text-anchor="middle" font-size="6.6" font-weight="bold" fill="#1a1a1a" stroke="#1a1a1a" stroke-width="0.35">4</text>
<text transform="translate(198.40,212.30) scale(0.74,1)" text-anchor="middle" font-size="6.6" font-weight="bold" fill="#1a1a1a" stroke="#1a1a1a" stroke-width="0.35">6</text>
<text transform="translate(355.00,284.70) scale(0.66,1)" font-size="7.2" font-weight="bold" fill="#d8561c" stroke="#d8561c" stroke-width="0.4">0</text>
<text transform="translate(355.00,270.26) scale(0.66,1)" font-size="7.2" font-weight="bold" fill="#d8561c" stroke="#d8561c" stroke-width="0.4">10</text>
<text transform="translate(355.00,255.82) scale(0.66,1)" font-size="7.2" font-weight="bold" fill="#d8561c" stroke="#d8561c" stroke-width="0.4">20</text>
<text transform="translate(355.00,241.38) scale(0.66,1)" font-size="7.2" font-weight="bold" fill="#d8561c" stroke="#d8561c" stroke-width="0.4">30</text>
<text transform="translate(355.00,226.94) scale(0.66,1)" font-size="7.2" font-weight="bold" fill="#d8561c" stroke="#d8561c" stroke-width="0.4">40</text>
<text transform="translate(355.00,212.50) scale(0.66,1)" font-size="7.2" font-weight="bold" fill="#d8561c" stroke="#d8561c" stroke-width="0.4">50</text>
<text transform="translate(194.80,246.40) rotate(-90) scale(1.49,1)" text-anchor="middle" font-size="5.6" font-weight="bold" fill="#111" stroke="#111" stroke-width="0.35">Current (Amp.)</text>
<text transform="translate(366.10,246.40) rotate(-90) scale(1.48,1)" text-anchor="middle" font-size="5.6" font-weight="bold" fill="#d8561c" stroke="#d8561c" stroke-width="0.3">Power (Watt)</text>
<text transform="translate(276.85,300.20) scale(0.74,1)" text-anchor="middle" font-size="7.3" font-weight="bold" fill="#111" stroke="#111" stroke-width="0.2">Voltage (Volt)</text>
<path d="M203.00,214.70 H219.50" stroke="#1277c2" stroke-width="1.7"/>
<text transform="translate(220.90,217.70) scale(0.97,1.06)" font-size="9.4" font-weight="bold" fill="#1277c2" stroke="#1277c2" stroke-width="0.3">Current</text>
<path d="M306.20,214.70 H322.70" stroke="#d8561c" stroke-width="1.7"/>
<text transform="translate(323.90,217.70) scale(0.95,1.06)" font-size="9.4" font-weight="bold" fill="#d8561c" stroke="#d8561c" stroke-width="0.3">Power</text>
<path d="M417.60,281.6 V210.60 M446.00,281.6 V210.60 M474.40,281.6 V210.60 M502.80,281.6 V210.60 M389.2,257.93 H531.20 M389.2,234.27 H531.20" stroke="#f0f0f0" stroke-width="0.6" fill="none"/>
<path d="M389.2,210.60 H531.20" stroke="#cfcfcf" stroke-width="0.8"/>
<path d="M389.2,210.60 V281.6 H531.20" stroke="#8c8c8c" stroke-width="0.75" fill="none"/>
<path d="M531.20,281.6 V210.60" stroke="#f2b597" stroke-width="0.9"/>
<polyline points="389.2,219.0 390.6,219.0 391.7,219.1 392.7,219.1 393.7,219.1 394.6,219.1 395.3,219.2 396.2,219.2 396.9,219.3 397.6,219.4 398.3,219.6 398.9,220.0 399.4,220.6 399.8,221.2 400.1,221.8 400.4,222.5 400.6,223.2 400.9,223.9 401.1,224.6 401.3,225.3 401.5,226.0 401.7,226.7 402.0,227.4 402.2,228.0 402.5,228.7 402.8,229.4 403.2,229.9 403.8,230.3 404.7,230.4 405.8,230.5 406.7,230.5 407.4,230.5 408.5,230.6 409.2,230.6 410.6,230.6 411.6,230.6 412.7,230.7 413.7,230.7 414.8,230.7 415.9,230.7 416.8,230.7 418.0,230.8 419.0,230.8 420.1,230.8 421.2,230.8 422.2,230.9 423.3,230.9 424.3,230.9 425.4,230.9 426.4,230.9 427.3,231.0 428.0,231.0 428.9,231.0 429.7,231.1 430.4,231.2 431.1,231.5 431.7,231.8 432.3,232.3 432.8,232.8 433.3,233.3 433.9,233.7 434.6,233.9 435.4,234.0 436.3,234.0 437.0,234.1 438.1,234.1 439.1,234.1 440.0,234.1 441.2,234.2 442.3,234.2 443.4,234.2 444.4,234.2 445.5,234.3 446.6,234.3 447.6,234.3 448.7,234.3 449.7,234.3 450.8,234.4 451.9,234.4 452.7,234.4 454.0,234.4 455.1,234.5 456.1,234.5 457.1,234.5 458.0,234.5 458.7,234.5 459.7,234.6 460.4,234.7 461.1,234.8 461.8,235.0 462.5,235.3 463.0,235.7 463.5,236.3 464.0,236.8 464.4,237.4 464.8,238.1 465.2,238.7 465.5,239.3 465.8,240.0 466.1,240.6 466.4,241.3 466.7,242.0 467.0,242.7 467.3,243.4 467.6,244.1 467.9,244.7 468.1,245.4 468.4,246.1 468.7,246.8 469.0,247.5 469.3,248.1 469.6,248.8 470.0,249.4 470.6,249.8 471.4,249.9 472.2,250.0 473.3,250.0 474.2,250.0 475.4,250.1 476.5,250.1 477.5,250.1 478.6,250.1 479.6,250.2 480.7,250.2 481.8,250.2 482.8,250.2 483.9,250.3 484.9,250.3 486.0,250.3 486.8,250.3 488.1,250.3 489.2,250.4 490.2,250.4 491.3,250.4 492.4,250.4 493.4,250.5 494.3,250.5 495.3,250.5 496.0,250.5 496.9,250.6 497.7,250.6 498.4,250.8 499.1,251.0 499.7,251.4 500.3,251.8 500.8,252.4 501.2,252.9 501.6,253.5 501.9,254.2 502.3,254.8 502.6,255.5 502.9,256.1 503.2,256.8 503.5,257.5 503.8,258.2 504.0,258.9 504.3,259.5 504.6,260.2 504.8,260.9 505.1,261.6 505.3,262.3 505.6,263.0 505.8,263.7 506.0,264.4 506.3,265.1 506.5,265.7 506.7,266.4 507.0,267.1 507.2,267.8 507.4,268.5 507.6,269.2 507.8,269.9 508.1,270.6 508.3,271.3 508.5,271.9 508.7,272.6 508.9,273.3 509.1,274.0 509.3,274.7 509.5,275.4 509.7,276.1 509.9,276.8 510.1,277.5 510.3,278.2 510.5,278.8 510.7,279.5 510.9,280.2 511.1,280.9 511.3,281.6 511.3,281.6" stroke="#1277c2" stroke-width="1.35" fill="none" stroke-linejoin="round"/>
<polyline points="389.2,281.6 390.6,279.9 391.7,278.6 392.7,277.4 393.7,276.2 394.4,275.4 395.3,274.3 395.8,273.7 396.5,272.8 397.1,272.2 397.6,271.6 398.1,271.0 398.6,270.5 399.0,270.0 399.6,269.5 400.1,269.1 400.8,268.7 401.4,268.5 402.1,268.3 402.8,268.0 403.3,267.6 403.9,267.1 404.4,266.6 404.9,266.1 405.8,265.3 406.7,264.5 407.4,263.8 408.5,262.7 409.2,262.0 410.6,260.7 411.6,259.6 412.7,258.6 413.7,257.6 414.8,256.6 415.9,255.5 416.8,254.7 418.0,253.5 419.0,252.5 420.1,251.5 421.2,250.4 421.8,249.8 423.3,248.4 424.3,247.4 425.4,246.4 426.4,245.4 427.3,244.6 428.0,243.9 428.5,243.4 429.2,242.8 429.7,242.3 430.3,241.8 430.9,241.4 431.5,241.0 432.2,240.8 432.9,240.8 433.6,240.6 434.3,240.3 434.9,239.8 435.9,238.9 437.0,238.0 438.1,237.0 439.1,236.1 440.0,235.3 441.2,234.2 442.3,233.2 443.4,232.3 444.4,231.4 445.1,230.8 446.6,229.5 447.6,228.5 448.7,227.6 449.7,226.6 450.8,225.7 451.9,224.8 452.7,224.1 454.0,222.9 455.1,222.0 456.1,221.1 457.1,220.2 458.0,219.4 458.7,218.8 459.3,218.3 460.0,217.7 460.5,217.3 461.1,216.9 461.8,216.6 462.5,216.5 463.2,216.7 463.8,217.1 464.3,217.6 464.7,218.2 465.1,218.8 465.4,219.4 465.7,220.1 466.0,220.8 466.3,221.4 466.6,222.1 466.8,222.8 467.1,223.5 467.3,224.2 467.5,224.9 467.8,225.6 468.0,226.3 468.2,227.0 468.5,227.8 468.7,228.5 469.0,229.2 469.2,229.9 469.5,230.6 469.9,231.3 470.4,231.8 471.2,231.7 471.9,231.3 472.8,230.8 474.2,230.1 475.4,229.4 476.5,228.8 477.5,228.2 478.6,227.6 479.3,227.2 480.7,226.4 481.8,225.8 482.8,225.2 483.9,224.6 484.9,224.0 486.0,223.4 486.8,222.9 488.1,222.2 489.2,221.6 490.2,221.0 491.3,220.4 492.4,219.8 493.4,219.3 494.3,218.7 495.3,218.2 496.0,217.8 496.9,217.4 497.7,217.1 498.4,216.9 499.1,217.0 499.7,217.4 500.2,217.9 500.6,218.5 500.9,219.2 501.1,219.8 501.4,220.6 501.6,221.3 501.8,221.9 502.0,222.6 502.2,223.4 502.4,224.1 502.6,224.8 502.8,225.5 502.9,226.2 503.1,227.0 503.3,227.7 503.4,228.4 503.6,229.2 503.7,229.9 503.9,230.7 504.0,231.4 504.2,232.2 504.3,232.9 504.5,233.7 504.6,234.5 504.7,235.2 504.9,236.0 505.0,236.8 505.2,237.6 505.3,238.3 505.4,239.1 505.5,239.9 505.7,240.7 505.8,241.5 505.9,242.2 506.1,243.0 506.2,243.8 506.3,244.6 506.4,245.4 506.6,246.2 506.7,247.0 506.8,247.8 506.9,248.6 507.0,249.4 507.2,250.1 507.3,250.8 507.4,251.5 507.5,252.2 507.6,252.9 507.7,253.6 507.8,254.3 507.9,255.0 508.0,255.7 508.1,256.4 508.2,257.1 508.3,257.8 508.4,258.5 508.5,259.3 508.5,260.0 508.6,260.7 508.7,261.4 508.8,262.1 508.9,262.8 509.0,263.5 509.1,264.3 509.2,265.0 509.3,265.7 509.4,266.4 509.5,267.1 509.6,267.9 509.7,268.6 509.8,269.3 509.9,270.0 510.0,270.8 510.1,271.5 510.2,272.2 510.3,273.0 510.3,273.7 510.4,274.4 510.5,275.2 510.6,275.9 510.7,276.6 510.8,277.4 510.9,278.1 511.0,278.9 511.1,279.6 511.2,280.4 511.3,281.1 511.3,281.6" stroke="#d8561c" stroke-width="1.35" fill="none" stroke-linejoin="round"/>
<circle cx="461.6" cy="217.7" r="2.0" fill="#000"/>
<text transform="translate(389.20,290.30) scale(0.72,1)" text-anchor="middle" font-size="7.0" font-weight="bold" fill="#1a1a1a" stroke="#1a1a1a" stroke-width="0.5">0</text>
<text transform="translate(417.60,290.30) scale(0.72,1)" text-anchor="middle" font-size="7.0" font-weight="bold" fill="#1a1a1a" stroke="#1a1a1a" stroke-width="0.5">5</text>
<text transform="translate(446.00,290.30) scale(0.72,1)" text-anchor="middle" font-size="7.0" font-weight="bold" fill="#1a1a1a" stroke="#1a1a1a" stroke-width="0.5">10</text>
<text transform="translate(474.40,290.30) scale(0.72,1)" text-anchor="middle" font-size="7.0" font-weight="bold" fill="#1a1a1a" stroke="#1a1a1a" stroke-width="0.5">15</text>
<text transform="translate(502.80,290.30) scale(0.72,1)" text-anchor="middle" font-size="7.0" font-weight="bold" fill="#1a1a1a" stroke="#1a1a1a" stroke-width="0.5">20</text>
<text transform="translate(531.20,290.30) scale(0.72,1)" text-anchor="middle" font-size="7.0" font-weight="bold" fill="#1a1a1a" stroke="#1a1a1a" stroke-width="0.5">25</text>
<text transform="translate(387.10,283.80) scale(0.74,1)" text-anchor="middle" font-size="6.6" font-weight="bold" fill="#1a1a1a" stroke="#1a1a1a" stroke-width="0.35">0</text>
<text transform="translate(387.10,260.13) scale(0.74,1)" text-anchor="middle" font-size="6.6" font-weight="bold" fill="#1a1a1a" stroke="#1a1a1a" stroke-width="0.35">2</text>
<text transform="translate(387.10,236.47) scale(0.74,1)" text-anchor="middle" font-size="6.6" font-weight="bold" fill="#1a1a1a" stroke="#1a1a1a" stroke-width="0.35">4</text>
<text transform="translate(387.10,212.80) scale(0.74,1)" text-anchor="middle" font-size="6.6" font-weight="bold" fill="#1a1a1a" stroke="#1a1a1a" stroke-width="0.35">6</text>
<text transform="translate(533.20,284.00) scale(0.66,1)" font-size="7.2" font-weight="bold" fill="#d8561c" stroke="#d8561c" stroke-width="0.4">0</text>
<text transform="translate(533.20,258.18) scale(0.66,1)" font-size="7.2" font-weight="bold" fill="#d8561c" stroke="#d8561c" stroke-width="0.4">20</text>
<text transform="translate(533.20,232.36) scale(0.66,1)" font-size="7.2" font-weight="bold" fill="#d8561c" stroke="#d8561c" stroke-width="0.4">40</text>
<text transform="translate(384.10,246.30) rotate(-90) scale(1.49,1)" text-anchor="middle" font-size="5.6" font-weight="bold" fill="#111" stroke="#111" stroke-width="0.35">Current (Amp.)</text>
<text transform="translate(542.90,246.30) rotate(-90) scale(1.48,1)" text-anchor="middle" font-size="5.6" font-weight="bold" fill="#d8561c" stroke="#d8561c" stroke-width="0.3">Power (Watt)</text>
<text transform="translate(460.30,299.50) scale(0.74,1)" text-anchor="middle" font-size="7.3" font-weight="bold" fill="#111" stroke="#111" stroke-width="0.2">Voltage (Volt)</text>
<path d="M392.10,214.70 H408.60" stroke="#1277c2" stroke-width="1.7"/>
<text transform="translate(410.50,217.80) scale(0.97,1.06)" font-size="9.4" font-weight="bold" fill="#1277c2" stroke="#1277c2" stroke-width="0.3">Current</text>
<path d="M486.50,214.70 H503.00" stroke="#d8561c" stroke-width="1.7"/>
<text transform="translate(504.20,217.80) scale(0.95,1.06)" font-size="9.4" font-weight="bold" fill="#d8561c" stroke="#d8561c" stroke-width="0.3">Power</text>
<path d="M91.20,634.4 V561.50 M120.20,634.4 V561.50 M149.20,634.4 V561.50 M178.20,634.4 V561.50 M62.2,610.10 H207.20 M62.2,585.80 H207.20" stroke="#f0f0f0" stroke-width="0.6" fill="none"/>
<path d="M62.2,561.50 H207.20" stroke="#cfcfcf" stroke-width="0.8"/>
<path d="M62.2,561.50 V634.4 H207.20" stroke="#8c8c8c" stroke-width="0.75" fill="none"/>
<path d="M207.20,634.4 V561.50" stroke="#f2b597" stroke-width="0.9"/>
<polyline points="62.2,570.2 63.3,570.2 64.3,570.2 65.4,570.2 66.4,570.2 67.3,570.3 68.0,570.3 68.9,570.3 69.7,570.4 70.4,570.5 71.1,570.8 71.7,571.2 72.1,571.7 72.5,572.3 72.8,573.0 73.1,573.6 73.3,574.3 73.5,575.1 73.7,575.8 73.9,576.5 74.1,577.2 74.3,577.9 74.5,578.6 74.7,579.3 75.0,580.0 75.2,580.7 75.6,581.3 76.2,581.7 76.9,581.8 77.7,581.9 78.8,582.0 79.9,582.0 81.0,582.0 81.7,582.0 83.1,582.0 84.2,582.1 85.2,582.1 86.3,582.1 87.4,582.1 88.4,582.2 89.4,582.2 90.6,582.2 91.7,582.2 92.7,582.3 93.8,582.3 94.9,582.3 95.9,582.3 97.0,582.3 98.1,582.4 99.1,582.4 100.0,582.4 100.7,582.4 101.6,582.5 102.4,582.6 103.1,582.7 103.8,582.9 104.4,583.3 104.9,583.8 105.3,584.4 105.7,585.0 106.0,585.7 106.3,586.3 106.5,587.0 106.8,587.7 107.0,588.4 107.3,589.1 107.5,589.8 107.7,590.5 107.9,591.2 108.1,591.9 108.3,592.6 108.5,593.3 108.7,594.1 108.9,594.8 109.1,595.5 109.3,596.2 109.5,596.9 109.7,597.6 109.9,598.3 110.1,599.0 110.4,599.7 110.6,600.4 110.9,601.0 111.4,601.6 112.1,601.8 113.0,601.9 113.9,601.9 115.3,602.0 116.5,602.0 117.6,602.1 118.7,602.1 119.7,602.1 120.8,602.1 121.9,602.1 122.9,602.2 124.0,602.2 125.1,602.2 126.2,602.2 127.2,602.3 128.1,602.3 129.4,602.3 130.4,602.3 131.5,602.3 132.6,602.4 133.6,602.4 134.7,602.4 135.7,602.4 136.6,602.5 137.3,602.5 138.3,602.5 139.0,602.6 139.8,602.7 140.5,603.0 141.1,603.4 141.6,603.8 142.0,604.4 142.4,605.0 142.8,605.6 143.1,606.2 143.4,606.9 143.7,607.6 144.0,608.2 144.2,608.9 144.5,609.5 144.8,610.2 145.0,610.8 145.3,611.5 145.6,612.1 145.9,612.8 146.3,613.4 146.9,613.9 147.7,614.0 149.2,614.1 150.3,614.1 151.4,614.2 152.5,614.2 153.4,614.2 154.6,614.2 155.7,614.2 156.8,614.3 157.8,614.3 158.5,614.3 160.0,614.3 161.0,614.4 162.1,614.4 163.2,614.4 164.3,614.4 165.3,614.5 166.2,614.5 167.5,614.5 168.6,614.5 169.6,614.5 170.7,614.6 171.7,614.6 172.6,614.6 173.3,614.6 174.3,614.7 175.0,614.7 175.7,614.9 176.4,615.1 177.0,615.4 177.6,615.9 178.0,616.4 178.5,617.0 178.9,617.6 179.2,618.3 179.6,618.9 179.9,619.6 180.2,620.2 180.5,620.9 180.7,621.6 181.0,622.2 181.3,622.9 181.5,623.5 181.8,624.2 182.0,624.9 182.3,625.6 182.5,626.3 182.8,627.0 183.0,627.8 183.3,628.5 183.5,629.2 183.7,629.9 184.0,630.6 184.2,631.3 184.4,632.0 184.6,632.7 184.9,633.4 185.1,634.1 185.2,634.4" stroke="#1277c2" stroke-width="1.35" fill="none" stroke-linejoin="round"/>
<polyline points="62.2,634.4 63.3,632.6 64.3,630.9 64.7,630.2 65.4,629.1 66.4,627.5 67.1,626.3 68.0,624.8 68.5,623.9 68.9,623.2 69.4,622.5 69.8,621.8 70.2,621.1 70.6,620.5 71.0,619.9 71.4,619.3 71.9,618.7 72.3,618.1 72.8,617.6 73.3,617.1 74.0,616.8 74.6,616.6 75.3,616.3 75.8,615.8 76.3,615.1 76.9,614.4 77.4,613.8 78.3,612.5 78.8,611.9 79.3,611.2 79.9,610.4 81.0,609.0 81.7,608.0 83.1,606.1 84.2,604.7 85.2,603.2 86.3,601.8 86.8,601.1 87.4,600.4 88.4,598.9 89.4,597.7 90.6,596.1 91.7,594.7 92.7,593.2 93.8,591.8 94.5,590.9 95.9,589.0 97.0,587.5 98.1,586.2 99.1,584.8 100.0,583.6 100.7,582.7 101.1,582.1 101.6,581.5 102.2,580.8 102.7,580.2 103.2,579.6 103.8,579.1 104.4,578.7 105.1,578.6 105.7,578.9 106.2,579.5 106.6,580.1 106.9,580.7 107.2,581.4 107.4,582.0 107.7,582.7 107.9,583.4 108.2,584.1 108.4,584.8 108.6,585.5 108.8,586.2 109.0,586.9 109.2,587.6 109.4,588.3 109.6,589.0 109.8,589.7 110.0,590.3 110.3,591.0 110.6,591.7 110.9,592.3 111.6,592.6 112.5,592.1 113.3,591.5 113.9,591.0 115.3,589.9 116.5,588.9 117.6,588.1 118.7,587.2 119.7,586.3 120.4,585.8 121.9,584.6 122.9,583.8 124.0,582.9 125.1,582.1 126.2,581.2 127.2,580.3 128.1,579.7 129.4,578.6 130.4,577.8 131.5,576.9 132.6,576.1 133.2,575.6 134.7,574.4 135.7,573.7 136.6,572.9 137.3,572.4 138.3,571.7 139.0,571.2 139.7,570.9 140.4,570.8 141.0,571.0 141.5,571.6 141.9,572.2 142.2,572.8 142.5,573.6 142.7,574.3 143.0,575.0 143.2,575.8 143.4,576.6 143.6,577.2 143.7,577.9 143.9,578.6 144.0,579.3 144.2,580.0 144.4,580.7 144.5,581.4 144.7,582.1 144.8,582.9 145.0,583.6 145.1,584.3 145.3,585.0 145.5,585.7 145.6,586.5 145.8,587.2 146.0,587.9 146.3,588.6 146.7,589.2 147.4,589.5 148.3,589.1 149.2,588.7 150.3,588.2 151.4,587.7 152.5,587.2 153.4,586.7 154.6,586.2 155.7,585.7 156.8,585.2 157.8,584.7 158.5,584.3 160.0,583.7 161.0,583.2 162.1,582.7 163.2,582.2 164.3,581.7 165.3,581.2 166.2,580.8 167.5,580.2 168.6,579.7 169.6,579.2 170.7,578.8 171.7,578.3 172.6,577.9 173.3,577.6 174.3,577.2 175.0,577.1 175.7,577.1 176.3,577.3 176.8,577.8 177.2,578.5 177.5,579.1 177.8,579.8 178.0,580.5 178.2,581.3 178.4,582.0 178.6,582.8 178.8,583.5 179.0,584.3 179.1,585.0 179.3,585.8 179.4,586.5 179.5,587.3 179.7,588.1 179.8,588.9 179.9,589.6 180.1,590.4 180.2,591.2 180.3,592.0 180.4,592.8 180.5,593.6 180.7,594.4 180.8,595.2 180.9,596.0 181.0,596.8 181.1,597.6 181.2,598.4 181.3,599.2 181.4,600.0 181.5,600.8 181.6,601.6 181.7,602.4 181.8,603.2 181.9,604.1 182.0,604.9 182.1,605.7 182.2,606.5 182.3,607.3 182.4,608.2 182.5,609.0 182.6,609.8 182.7,610.6 182.8,611.5 182.9,612.3 183.0,613.1 183.1,614.0 183.2,614.8 183.3,615.6 183.3,616.5 183.4,617.3 183.5,618.2 183.6,619.0 183.7,619.9 183.8,620.7 183.9,621.5 184.0,622.4 184.1,623.2 184.1,624.1 184.2,624.9 184.3,625.8 184.4,626.7 184.5,627.5 184.6,628.4 184.7,629.2 184.7,630.1 184.8,630.9 184.9,631.8 185.0,632.7 185.1,633.5 185.2,634.4 185.2,634.4" stroke="#d8561c" stroke-width="1.35" fill="none" stroke-linejoin="round"/>
<circle cx="140.1" cy="571.4" r="2.0" fill="#000"/>
<text transform="translate(62.20,643.10) scale(0.72,1)" text-anchor="middle" font-size="7.0" font-weight="bold" fill="#1a1a1a" stroke="#1a1a1a" stroke-width="0.5">0</text>
<text transform="translate(91.20,643.10) scale(0.72,1)" text-anchor="middle" font-size="7.0" font-weight="bold" fill="#1a1a1a" stroke="#1a1a1a" stroke-width="0.5">5</text>
<text transform="translate(120.20,643.10) scale(0.72,1)" text-anchor="middle" font-size="7.0" font-weight="bold" fill="#1a1a1a" stroke="#1a1a1a" stroke-width="0.5">10</text>
<text transform="translate(149.20,643.10) scale(0.72,1)" text-anchor="middle" font-size="7.0" font-weight="bold" fill="#1a1a1a" stroke="#1a1a1a" stroke-width="0.5">15</text>
<text transform="translate(178.20,643.10) scale(0.72,1)" text-anchor="middle" font-size="7.0" font-weight="bold" fill="#1a1a1a" stroke="#1a1a1a" stroke-width="0.5">20</text>
<text transform="translate(207.20,643.10) scale(0.72,1)" text-anchor="middle" font-size="7.0" font-weight="bold" fill="#1a1a1a" stroke="#1a1a1a" stroke-width="0.5">25</text>
<text transform="translate(60.10,636.60) scale(0.74,1)" text-anchor="middle" font-size="6.6" font-weight="bold" fill="#1a1a1a" stroke="#1a1a1a" stroke-width="0.35">0</text>
<text transform="translate(60.10,612.30) scale(0.74,1)" text-anchor="middle" font-size="6.6" font-weight="bold" fill="#1a1a1a" stroke="#1a1a1a" stroke-width="0.35">2</text>
<text transform="translate(60.10,588.00) scale(0.74,1)" text-anchor="middle" font-size="6.6" font-weight="bold" fill="#1a1a1a" stroke="#1a1a1a" stroke-width="0.35">4</text>
<text transform="translate(60.10,563.70) scale(0.74,1)" text-anchor="middle" font-size="6.6" font-weight="bold" fill="#1a1a1a" stroke="#1a1a1a" stroke-width="0.35">6</text>
<text transform="translate(209.20,636.80) scale(0.66,1)" font-size="7.2" font-weight="bold" fill="#d8561c" stroke="#d8561c" stroke-width="0.4">0</text>
<text transform="translate(209.20,618.57) scale(0.66,1)" font-size="7.2" font-weight="bold" fill="#d8561c" stroke="#d8561c" stroke-width="0.4">10</text>
<text transform="translate(209.20,600.35) scale(0.66,1)" font-size="7.2" font-weight="bold" fill="#d8561c" stroke="#d8561c" stroke-width="0.4">20</text>
<text transform="translate(209.20,582.12) scale(0.66,1)" font-size="7.2" font-weight="bold" fill="#d8561c" stroke="#d8561c" stroke-width="0.4">30</text>
<text transform="translate(209.20,563.90) scale(0.66,1)" font-size="7.2" font-weight="bold" fill="#d8561c" stroke="#d8561c" stroke-width="0.4">40</text>
<text transform="translate(56.80,598.15) rotate(-90) scale(1.49,1)" text-anchor="middle" font-size="5.6" font-weight="bold" fill="#111" stroke="#111" stroke-width="0.35">Current (Amp.)</text>
<text transform="translate(219.80,598.15) rotate(-90) scale(1.48,1)" text-anchor="middle" font-size="5.6" font-weight="bold" fill="#d8561c" stroke="#d8561c" stroke-width="0.3">Power (Watt)</text>
<text transform="translate(134.80,652.30) scale(0.74,1)" text-anchor="middle" font-size="7.3" font-weight="bold" fill="#111" stroke="#111" stroke-width="0.2">Voltage (Volt)</text>
<path d="M69.30,565.20 H85.80" stroke="#1277c2" stroke-width="1.7"/>
<text transform="translate(86.20,569.40) scale(0.97,1.06)" font-size="9.4" font-weight="bold" fill="#1277c2" stroke="#1277c2" stroke-width="0.3">Current</text>
<path d="M158.00,565.20 H174.50" stroke="#d8561c" stroke-width="1.7"/>
<text transform="translate(178.20,569.40) scale(0.95,1.06)" font-size="9.4" font-weight="bold" fill="#d8561c" stroke="#d8561c" stroke-width="0.3">Power</text>
<path d="M321.34,634.3 V561.30 M350.18,634.3 V561.30 M379.02,634.3 V561.30 M407.86,634.3 V561.30 M292.5,609.97 H436.70 M292.5,585.63 H436.70" stroke="#f0f0f0" stroke-width="0.6" fill="none"/>
<path d="M292.5,561.30 H436.70" stroke="#cfcfcf" stroke-width="0.8"/>
<path d="M292.5,561.30 V634.3 H436.70" stroke="#8c8c8c" stroke-width="0.75" fill="none"/>
<path d="M436.70,634.3 V561.30" stroke="#f2b597" stroke-width="0.9"/>
<polyline points="292.5,576.0 293.2,576.0 294.3,576.1 295.4,576.1 296.1,576.1 297.4,576.1 298.2,576.2 299.0,576.2 299.9,576.2 300.7,576.3 301.4,576.4 302.1,576.7 302.7,577.1 303.2,577.6 303.6,578.2 303.9,578.9 304.2,579.5 304.6,580.2 304.9,580.8 305.4,581.3 306.1,581.6 306.9,581.7 307.9,581.7 308.9,581.7 310.6,581.8 311.6,581.9 312.7,581.9 313.8,581.9 314.8,581.9 315.9,581.9 317.0,582.0 317.7,582.0 319.1,582.0 320.0,582.0 321.2,582.1 322.3,582.1 323.4,582.1 324.4,582.1 325.5,582.2 326.5,582.2 327.6,582.2 328.6,582.2 329.5,582.2 330.2,582.3 331.1,582.3 331.9,582.4 332.6,582.5 333.3,582.8 334.0,583.2 334.5,583.7 334.9,584.2 335.3,584.9 335.6,585.5 335.9,586.1 336.2,586.8 336.5,587.5 336.8,588.2 337.0,588.9 337.2,589.6 337.5,590.3 337.7,591.0 337.9,591.7 338.1,592.4 338.3,593.1 338.5,593.7 338.7,594.4 338.9,595.1 339.1,595.8 339.3,596.5 339.5,597.2 339.7,597.9 340.0,598.6 340.2,599.3 340.5,600.0 340.8,600.6 341.2,601.2 341.8,601.6 342.5,601.7 343.3,601.8 344.0,601.8 345.4,601.9 346.5,601.9 347.6,601.9 348.6,601.9 349.7,602.0 350.8,602.0 351.5,602.0 352.9,602.0 353.8,602.0 355.0,602.1 356.1,602.1 357.1,602.1 358.2,602.1 359.3,602.2 360.3,602.2 361.4,602.2 362.5,602.2 363.5,602.3 364.6,602.3 365.3,602.3 366.5,602.3 367.2,602.3 368.1,602.4 368.9,602.5 369.6,602.6 370.3,602.8 370.9,603.2 371.4,603.6 371.9,604.2 372.3,604.8 372.7,605.4 373.1,606.0 373.5,606.7 373.9,607.3 374.4,607.8 375.1,608.1 376.1,608.2 376.9,608.3 377.9,608.3 378.9,608.3 380.0,608.3 381.1,608.4 382.1,608.4 383.2,608.4 384.3,608.4 385.3,608.4 386.1,608.5 387.5,608.5 388.4,608.5 389.6,608.5 390.7,608.6 391.7,608.6 392.8,608.6 393.9,608.6 394.9,608.7 396.0,608.7 397.1,608.7 398.1,608.7 399.1,608.7 400.0,608.8 400.8,608.8 401.7,608.8 402.5,608.9 403.2,609.0 403.9,609.3 404.5,609.6 405.1,610.1 405.6,610.6 406.0,611.1 406.4,611.7 406.8,612.4 407.1,613.0 407.5,613.7 407.8,614.3 408.1,614.9 408.4,615.6 408.7,616.3 409.0,617.0 409.3,617.7 409.5,618.3 409.8,619.0 410.1,619.7 410.3,620.4 410.6,621.1 410.8,621.8 411.0,622.5 411.3,623.2 411.5,623.9 411.8,624.6 412.0,625.3 412.2,626.0 412.4,626.6 412.7,627.3 412.9,628.0 413.1,628.7 413.3,629.4 413.5,630.1 413.7,630.8 413.9,631.5 414.1,632.2 414.4,632.9 414.6,633.6 414.8,634.3 414.8,634.3" stroke="#1277c2" stroke-width="1.35" fill="none" stroke-linejoin="round"/>
<polyline points="292.5,634.3 293.2,633.3 293.8,632.6 294.3,631.9 295.4,630.5 296.1,629.5 297.4,627.7 298.2,626.7 299.0,625.6 299.5,624.8 300.2,623.9 300.7,623.3 301.1,622.8 301.6,622.2 302.0,621.6 302.5,621.1 303.0,620.5 303.5,620.0 304.0,619.6 304.6,619.2 305.2,618.7 305.7,618.2 306.2,617.6 306.9,616.8 307.4,616.2 307.9,615.5 308.4,615.0 308.9,614.4 309.5,613.7 310.6,612.4 311.6,611.1 312.7,609.8 313.8,608.5 314.8,607.3 315.4,606.5 315.9,606.0 317.0,604.7 317.7,603.8 319.1,602.2 320.0,601.0 321.2,599.6 322.3,598.3 323.4,597.1 324.4,595.8 325.5,594.5 326.5,593.3 327.6,592.0 328.6,590.9 329.1,590.3 330.2,588.9 330.7,588.3 331.4,587.6 331.9,587.0 332.4,586.4 333.0,585.9 333.6,585.5 334.2,585.2 335.0,585.2 335.6,585.6 336.1,586.1 336.5,586.7 336.9,587.3 337.2,587.9 337.5,588.6 337.8,589.2 338.0,589.9 338.3,590.6 338.5,591.2 338.8,591.9 339.0,592.6 339.3,593.3 339.5,594.0 339.8,594.7 340.0,595.3 340.3,596.0 340.7,596.6 341.2,597.1 341.9,597.0 343.0,596.3 343.9,595.7 344.6,595.2 345.4,594.6 346.5,593.8 347.6,593.1 348.6,592.3 349.2,591.9 350.8,590.8 351.5,590.2 352.9,589.2 353.8,588.6 355.0,587.7 356.1,587.0 357.1,586.2 358.2,585.4 359.3,584.7 360.3,583.9 361.4,583.2 362.5,582.4 363.0,582.0 364.6,580.9 365.3,580.4 366.5,579.6 367.1,579.2 367.7,578.8 368.4,578.3 369.1,578.0 369.8,577.7 370.5,577.7 371.1,578.1 371.6,578.6 372.0,579.2 372.3,579.9 372.7,580.6 373.0,581.3 373.2,581.9 373.5,582.6 373.8,583.2 374.2,583.8 374.7,584.3 375.6,584.1 376.8,583.6 377.9,583.0 378.9,582.4 380.0,581.8 381.1,581.2 382.1,580.6 383.2,580.0 383.8,579.7 385.3,578.8 386.1,578.4 387.5,577.6 388.4,577.1 389.6,576.5 390.7,575.9 391.7,575.3 392.8,574.7 393.9,574.1 394.9,573.6 396.0,573.0 397.1,572.4 398.1,571.8 399.1,571.3 399.8,571.0 400.8,570.5 401.7,570.0 402.5,569.8 403.2,569.7 403.9,569.8 404.4,570.3 404.9,570.9 405.2,571.5 405.5,572.2 405.8,572.9 406.0,573.6 406.2,574.3 406.4,575.0 406.6,575.7 406.8,576.4 407.0,577.1 407.1,577.8 407.3,578.5 407.4,579.2 407.6,579.9 407.7,580.6 407.9,581.3 408.0,582.1 408.1,582.8 408.3,583.5 408.4,584.3 408.5,585.0 408.7,585.8 408.8,586.5 408.9,587.2 409.0,588.0 409.2,588.7 409.3,589.5 409.4,590.3 409.5,591.0 409.6,591.8 409.7,592.5 409.8,593.3 410.0,594.1 410.1,594.8 410.2,595.6 410.3,596.4 410.4,597.1 410.5,597.9 410.6,598.7 410.7,599.5 410.8,600.3 410.9,601.0 411.0,601.8 411.1,602.6 411.2,603.4 411.3,604.2 411.4,605.0 411.5,605.8 411.6,606.5 411.7,607.3 411.8,608.1 411.9,608.9 412.0,609.7 412.1,610.5 412.2,611.3 412.3,612.1 412.4,612.9 412.5,613.7 412.6,614.6 412.7,615.4 412.8,616.2 412.9,617.0 413.0,617.8 413.1,618.6 413.2,619.4 413.3,620.2 413.4,621.1 413.4,621.9 413.5,622.7 413.6,623.5 413.7,624.3 413.8,625.2 413.9,626.0 414.0,626.8 414.1,627.6 414.2,628.5 414.3,629.3 414.3,630.1 414.4,631.0 414.5,631.8 414.6,632.6 414.7,633.3 414.8,634.0 414.8,634.3" stroke="#d8561c" stroke-width="1.35" fill="none" stroke-linejoin="round"/>
<circle cx="401.4" cy="570.3" r="2.0" fill="#000"/>
<text transform="translate(292.50,643.00) scale(0.72,1)" text-anchor="middle" font-size="7.0" font-weight="bold" fill="#1a1a1a" stroke="#1a1a1a" stroke-width="0.5">0</text>
<text transform="translate(321.34,643.00) scale(0.72,1)" text-anchor="middle" font-size="7.0" font-weight="bold" fill="#1a1a1a" stroke="#1a1a1a" stroke-width="0.5">5</text>
<text transform="translate(350.18,643.00) scale(0.72,1)" text-anchor="middle" font-size="7.0" font-weight="bold" fill="#1a1a1a" stroke="#1a1a1a" stroke-width="0.5">10</text>
<text transform="translate(379.02,643.00) scale(0.72,1)" text-anchor="middle" font-size="7.0" font-weight="bold" fill="#1a1a1a" stroke="#1a1a1a" stroke-width="0.5">15</text>
<text transform="translate(407.86,643.00) scale(0.72,1)" text-anchor="middle" font-size="7.0" font-weight="bold" fill="#1a1a1a" stroke="#1a1a1a" stroke-width="0.5">20</text>
<text transform="translate(436.70,643.00) scale(0.72,1)" text-anchor="middle" font-size="7.0" font-weight="bold" fill="#1a1a1a" stroke="#1a1a1a" stroke-width="0.5">25</text>
<text transform="translate(290.40,636.50) scale(0.74,1)" text-anchor="middle" font-size="6.6" font-weight="bold" fill="#1a1a1a" stroke="#1a1a1a" stroke-width="0.35">0</text>
<text transform="translate(290.40,612.17) scale(0.74,1)" text-anchor="middle" font-size="6.6" font-weight="bold" fill="#1a1a1a" stroke="#1a1a1a" stroke-width="0.35">2</text>
<text transform="translate(290.40,587.83) scale(0.74,1)" text-anchor="middle" font-size="6.6" font-weight="bold" fill="#1a1a1a" stroke="#1a1a1a" stroke-width="0.35">4</text>
<text transform="translate(290.40,563.50) scale(0.74,1)" text-anchor="middle" font-size="6.6" font-weight="bold" fill="#1a1a1a" stroke="#1a1a1a" stroke-width="0.35">6</text>
<text transform="translate(438.70,636.70) scale(0.66,1)" font-size="7.2" font-weight="bold" fill="#d8561c" stroke="#d8561c" stroke-width="0.4">0</text>
<text transform="translate(438.70,620.48) scale(0.66,1)" font-size="7.2" font-weight="bold" fill="#d8561c" stroke="#d8561c" stroke-width="0.4">10</text>
<text transform="translate(438.70,604.26) scale(0.66,1)" font-size="7.2" font-weight="bold" fill="#d8561c" stroke="#d8561c" stroke-width="0.4">20</text>
<text transform="translate(438.70,588.03) scale(0.66,1)" font-size="7.2" font-weight="bold" fill="#d8561c" stroke="#d8561c" stroke-width="0.4">30</text>
<text transform="translate(438.70,571.81) scale(0.66,1)" font-size="7.2" font-weight="bold" fill="#d8561c" stroke="#d8561c" stroke-width="0.4">40</text>
<text transform="translate(286.90,598.00) rotate(-90) scale(1.49,1)" text-anchor="middle" font-size="5.6" font-weight="bold" fill="#111" stroke="#111" stroke-width="0.35">Current (Amp.)</text>
<text transform="translate(447.80,598.00) rotate(-90) scale(1.48,1)" text-anchor="middle" font-size="5.6" font-weight="bold" fill="#d8561c" stroke="#d8561c" stroke-width="0.3">Power (Watt)</text>
<text transform="translate(364.70,652.20) scale(0.74,1)" text-anchor="middle" font-size="7.3" font-weight="bold" fill="#111" stroke="#111" stroke-width="0.2">Voltage (Volt)</text>
<path d="M295.30,565.00 H311.80" stroke="#1277c2" stroke-width="1.7"/>
<text transform="translate(312.40,568.90) scale(0.97,1.06)" font-size="9.4" font-weight="bold" fill="#1277c2" stroke="#1277c2" stroke-width="0.3">Current</text>
<path d="M387.00,565.00 H403.50" stroke="#d8561c" stroke-width="1.7"/>
<text transform="translate(407.20,568.90) scale(0.95,1.06)" font-size="9.4" font-weight="bold" fill="#d8561c" stroke="#d8561c" stroke-width="0.3">Power</text>
<text transform="translate(93.1,314.7) scale(1,1.09)" text-anchor="middle" font-size="9.0" font-weight="bold" fill="#111" stroke="#111" stroke-width="0.18" letter-spacing="0.15">Cond. 1</text>
<text transform="translate(93.1,325.8) scale(1,1.09)" text-anchor="middle" font-size="9.0" font-weight="bold" fill="#111" stroke="#111" stroke-width="0.18" letter-spacing="0.15">MPP = 87.26 Watt</text>
<text transform="translate(93.1,336.1) scale(1,1.09)" text-anchor="middle" font-size="9.0" font-weight="bold" fill="#111" stroke="#111" stroke-width="0.18" letter-spacing="0.15">(a)</text>
<text transform="translate(273.90000000000003,312.5) scale(1,1.09)" text-anchor="middle" font-size="9.0" font-weight="bold" fill="#111" stroke="#111" stroke-width="0.18" letter-spacing="0.15">Cond. 2</text>
<text transform="translate(273.90000000000003,324.0) scale(1,1.09)" text-anchor="middle" font-size="9.0" font-weight="bold" fill="#111" stroke="#111" stroke-width="0.18" letter-spacing="0.15">MPP = 41.29 Watt</text>
<text transform="translate(273.90000000000003,333.5) scale(1,1.09)" text-anchor="middle" font-size="9.0" font-weight="bold" fill="#111" stroke="#111" stroke-width="0.18" letter-spacing="0.15">(b)</text>
<text transform="translate(462.1,310.2) scale(1,1.09)" text-anchor="middle" font-size="9.0" font-weight="bold" fill="#111" stroke="#111" stroke-width="0.18" letter-spacing="0.15">Cond. 3</text>
<text transform="translate(462.1,321.6) scale(1,1.09)" text-anchor="middle" font-size="9.0" font-weight="bold" fill="#111" stroke="#111" stroke-width="0.18" letter-spacing="0.15">MPP = 49.67 Watt</text>
<text transform="translate(462.1,331.6) scale(1,1.09)" text-anchor="middle" font-size="9.0" font-weight="bold" fill="#111" stroke="#111" stroke-width="0.18" letter-spacing="0.15">(c)</text>
<text transform="translate(131.6,664.3) scale(1,1.09)" text-anchor="middle" font-size="9.0" font-weight="bold" fill="#111" stroke="#111" stroke-width="0.18" letter-spacing="0.15">Cond. 4</text>
<text transform="translate(131.6,675.6) scale(1,1.09)" text-anchor="middle" font-size="9.0" font-weight="bold" fill="#111" stroke="#111" stroke-width="0.18" letter-spacing="0.15">MPP = 34.76 Watt</text>
<text transform="translate(131.6,685.6) scale(1,1.09)" text-anchor="middle" font-size="9.0" font-weight="bold" fill="#111" stroke="#111" stroke-width="0.18" letter-spacing="0.15">(d)</text>
<text transform="translate(369.1,664.3) scale(1,1.09)" text-anchor="middle" font-size="9.0" font-weight="bold" fill="#111" stroke="#111" stroke-width="0.18" letter-spacing="0.15">Cond. 5</text>
<text transform="translate(369.1,675.6) scale(1,1.09)" text-anchor="middle" font-size="9.0" font-weight="bold" fill="#111" stroke="#111" stroke-width="0.18" letter-spacing="0.15">MPP = 39.66 Watt</text>
<text transform="translate(369.1,686.0) scale(1,1.09)" text-anchor="middle" font-size="9.0" font-weight="bold" fill="#111" stroke="#111" stroke-width="0.18" letter-spacing="0.15">(e)</text>
</svg></body></html>
